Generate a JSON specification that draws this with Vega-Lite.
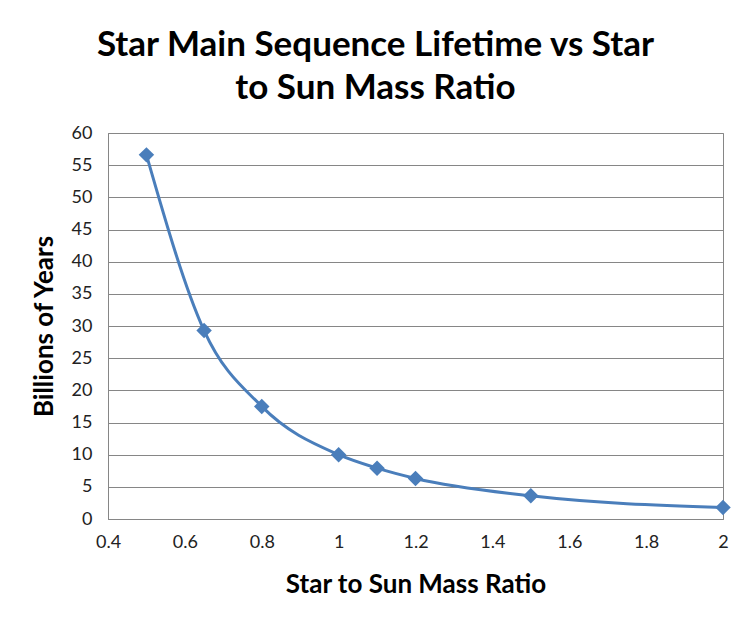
{
  "$schema": "https://vega.github.io/schema/vega-lite/v6.json",
  "autosize": "none",
  "width": 615,
  "height": 386,
  "padding": {"left": 108, "top": 133, "right": 27, "bottom": 107},
  "background": "white",
  "title": {
    "text": ["Star Main Sequence Lifetime vs Star", "to Sun Mass Ratio"],
    "font": "Lato",
    "fontSize": 35,
    "fontWeight": "bold",
    "color": "#000000",
    "anchor": "middle",
    "dx": -40,
    "offset": 18,
    "lineHeight": 43
  },
  "config": {
    "view": {"stroke": "#868686", "strokeWidth": 1},
    "axis": {
      "labelFont": "Lato",
      "labelFontSize": 18,
      "labelColor": "#222222",
      "titleFont": "Lato",
      "titleFontSize": 26,
      "titleFontWeight": "bold",
      "titleColor": "#000000",
      "gridColor": "#868686",
      "gridWidth": 1,
      "domainColor": "#868686",
      "ticks": false
    }
  },
  "data": {
    "values": [
      {"mass": 0.5, "years": 56.6},
      {"mass": 0.65, "years": 29.3},
      {"mass": 0.8, "years": 17.5},
      {"mass": 1.0, "years": 10.0},
      {"mass": 1.1, "years": 7.9},
      {"mass": 1.2, "years": 6.3},
      {"mass": 1.5, "years": 3.6},
      {"mass": 2.0, "years": 1.8}
    ]
  },
  "encoding": {
    "x": {
      "field": "mass",
      "type": "quantitative",
      "scale": {"domain": [0.4, 2], "nice": false, "zero": false},
      "axis": {
        "title": "Star to Sun Mass Ratio",
        "values": [0.4, 0.6, 0.8, 1, 1.2, 1.4, 1.6, 1.8, 2],
        "format": "~g",
        "grid": false,
        "labelPadding": 14,
        "titlePadding": 20,
        "labelFlush": false
      }
    },
    "y": {
      "field": "years",
      "type": "quantitative",
      "scale": {"domain": [0, 60], "nice": false},
      "axis": {
        "title": "Billions of Years",
        "values": [0, 5, 10, 15, 20, 25, 30, 35, 40, 45, 50, 55, 60],
        "labelPadding": 16,
        "titlePadding": 14
      }
    }
  },
  "layer": [
    {
      "mark": {"type": "line", "interpolate": "monotone", "color": "#4A7EBB", "strokeWidth": 3}
    },
    {
      "mark": {"type": "point", "shape": "diamond", "filled": true, "opacity": 1, "color": "#4A7EBB", "size": 240}
    }
  ]
}
